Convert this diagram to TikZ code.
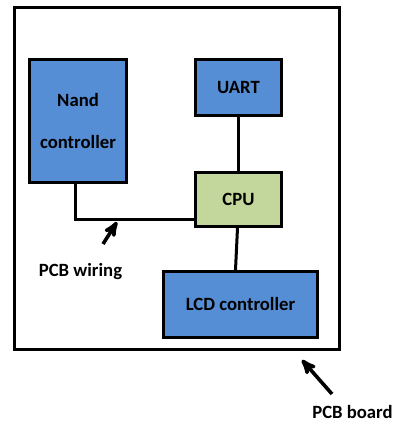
\documentclass[tikz,border=0pt]{standalone}
\usepackage{fontspec}
\setmainfont{Carlito}
\usetikzlibrary{arrows}
\definecolor{boxblue}{HTML}{558ED5}
\definecolor{cpugreen}{HTML}{C3D69B}

\begin{document}
\begin{tikzpicture}[x=1pt,y=-1pt,>=stealth',line width=3pt,
    font=\fontsize{18.7}{22}\selectfont\bfseries,
    block/.style={draw,fill=boxblue,inner sep=0pt,align=center},
    pointer/.style={->,line width=3.6pt}]
      \useasboundingbox (0,0) rectangle (400,424);

      % board outline
      \node[draw,minimum width=325pt,minimum height=342pt] (board) at (177,178.5) {};

      \node[block,minimum width=97pt,minimum height=123pt] (nand) at (78,121) {Nand\\[20pt]controller};
      \node[block,minimum width=86pt,minimum height=56pt] (uart) at (238.5,87.5) {UART};
      \node[block,fill=cpugreen,minimum width=86pt,minimum height=54pt] (cpu) [below of=uart,node distance=112pt] {CPU};
      \node[block,minimum width=154pt,minimum height=66pt] (lcd) at (240.5,304.5) {LCD controller};

      \node (wiring) at (80.5,272) {PCB wiring};
      \node (pcb) at (352.5,412) {PCB board};

      % connections
      \draw ([xshift=-3pt]nand.south) |- ([yshift=-20pt]cpu.west);
      \draw (uart) -- (cpu);
      \draw ([xshift=-1pt]cpu.south) -- ([xshift=-5pt]lcd.north);

      % pointers
      \coordinate (wiretail) at (103,244);
      \coordinate (wirehead) at (117,222);
      \coordinate (boardtail) at (332,394);
      \coordinate (boardhead) at (302,360);
      \draw[pointer] (wiretail) -- (wirehead);
      \draw[pointer] (boardtail) -- (boardhead);
    \end{tikzpicture}
\end{document}
